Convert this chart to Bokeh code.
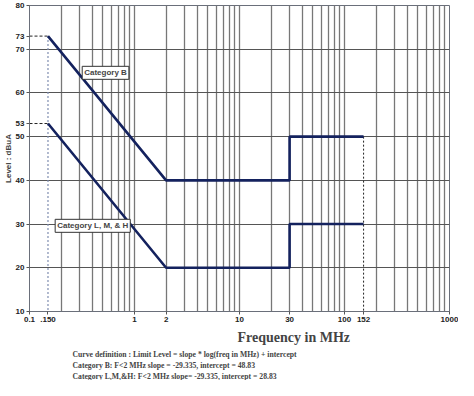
from bokeh.plotting import figure
from bokeh.models import FixedTicker, Title, Label
from bokeh.embed import file_html
from bokeh.resources import INLINE

# ---- data ----
freq_mhz = [0.15, 2, 30, 30, 152]
level_cat_b = [73, 40, 40, 50, 50]
level_cat_lmh = [53, 20, 20, 30, 30]

x_tick_values = [0.1, 0.15, 1, 2, 10, 30, 100, 152, 1000]
x_tick_labels = ["0.1", ".150", "1", "2", "10", "30", "100", "152", "1000"]
y_tick_values = [10, 20, 30, 40, 50, 53, 60, 70, 73, 80]
y_grid_values = [10, 20, 30, 40, 50, 60, 70, 80]
x_grid_values = [m * 10.0 ** e for e in range(-1, 3) for m in range(1, 10)] + [1000]

series_labels = ["Category B", "Category L, M, & H"]
x_label = "Frequency in MHz"
y_label = "Level : dBuA"
notes = [
    "Curve definition : Limit Level = slope * log(freq in MHz) + intercept",
    "Category B: F<2 MHz slope = -29.335, intercept = 48.83",
    "Category L,M,&H: F<2 MHz slope= -29.335, intercept = 28.83",
]

NAVY = "#14225e"
SANS = "Liberation Sans"
SERIF = "Liberation Serif"

p = figure(width=458, height=380, x_axis_type="log",
           x_range=(x_tick_values[0], x_tick_values[-1]),
           y_range=(y_grid_values[0], y_grid_values[-1]),
           output_backend="svg", toolbar_location=None,
           min_border_top=5, min_border_right=9, min_border_left=2,
           min_border_bottom=0)
p.background_fill_color = "white"
p.border_fill_color = "white"
p.outline_line_color = "#6a6f7a"

# grids
p.xgrid.ticker = FixedTicker(ticks=x_grid_values)
p.xgrid.grid_line_color = "#777777"
p.xgrid.grid_line_width = 1.3
p.ygrid.ticker = FixedTicker(ticks=y_grid_values)
p.ygrid.grid_line_color = "#555555"
p.ygrid.grid_line_width = 1.2

# x axis
p.xaxis.ticker = FixedTicker(ticks=x_tick_values)
p.xaxis.major_label_overrides = {v: s for v, s in zip(x_tick_values, x_tick_labels)}
# y axis
p.yaxis.ticker = FixedTicker(ticks=y_tick_values)
p.yaxis.axis_label = y_label
p.yaxis.axis_label_text_font = SANS
p.yaxis.axis_label_text_font_size = "8px"
p.yaxis.axis_label_text_font_style = "bold"
p.yaxis.axis_label_standoff = 0

for ax in (p.xaxis, p.yaxis):
    ax.major_label_text_font = SANS
    ax.major_label_text_font_size = "8px"
    ax.major_label_text_font_style = "bold"
    ax.major_label_text_color = "#222222"
    ax.major_label_standoff = 2
    ax.major_tick_out = 3
    ax.major_tick_in = 0
    ax.minor_tick_out = 0
    ax.minor_tick_in = 0
    ax.axis_line_color = "#6a6f7a"
    ax.major_tick_line_color = "#555555"

# reference dashed lines
x0 = x_tick_values[0]
y0 = y_grid_values[0]
for lv in (level_cat_b[0], level_cat_lmh[0]):
    p.line([x0, freq_mhz[0]], [lv, lv], line_color="#222222", line_width=1, line_dash="3 2")
p.line([freq_mhz[0], freq_mhz[0]], [level_cat_b[0], y0], line_color="#7f8db0",
       line_width=1.2, line_dash="2 2")
p.line([freq_mhz[-1], freq_mhz[-1]], [level_cat_b[-1], y0], line_color="#222222",
       line_width=1, line_dash="2 2")

# limit curves
p.line(freq_mhz, level_cat_b, line_color=NAVY, line_width=2.6)
p.line(freq_mhz, level_cat_lmh, line_color=NAVY, line_width=2.6)

# category labels
for (lx, ly), txt in zip([(0.53, 64.6), (0.40, 29.6)], series_labels):
    p.add_layout(Label(x=lx, y=ly, text=txt, text_font=SANS, text_font_size="8px",
                       text_font_style="bold", text_align="center", text_baseline="middle",
                       background_fill_color="white", border_line_color="#333333",
                       border_line_width=1, padding=2))

# x label and notes as titles below
p.add_layout(Title(text=x_label, align="left", offset=208, standoff=6,
                   text_font=SERIF, text_font_size="14px", text_font_style="bold"), "below")
for n in notes:
    p.add_layout(Title(text=n, align="left", offset=43, standoff=0,
                       text_font=SERIF, text_font_size="7.7px", text_font_style="bold"), "below")

open("out.html", "w").write(file_html(p, INLINE))
